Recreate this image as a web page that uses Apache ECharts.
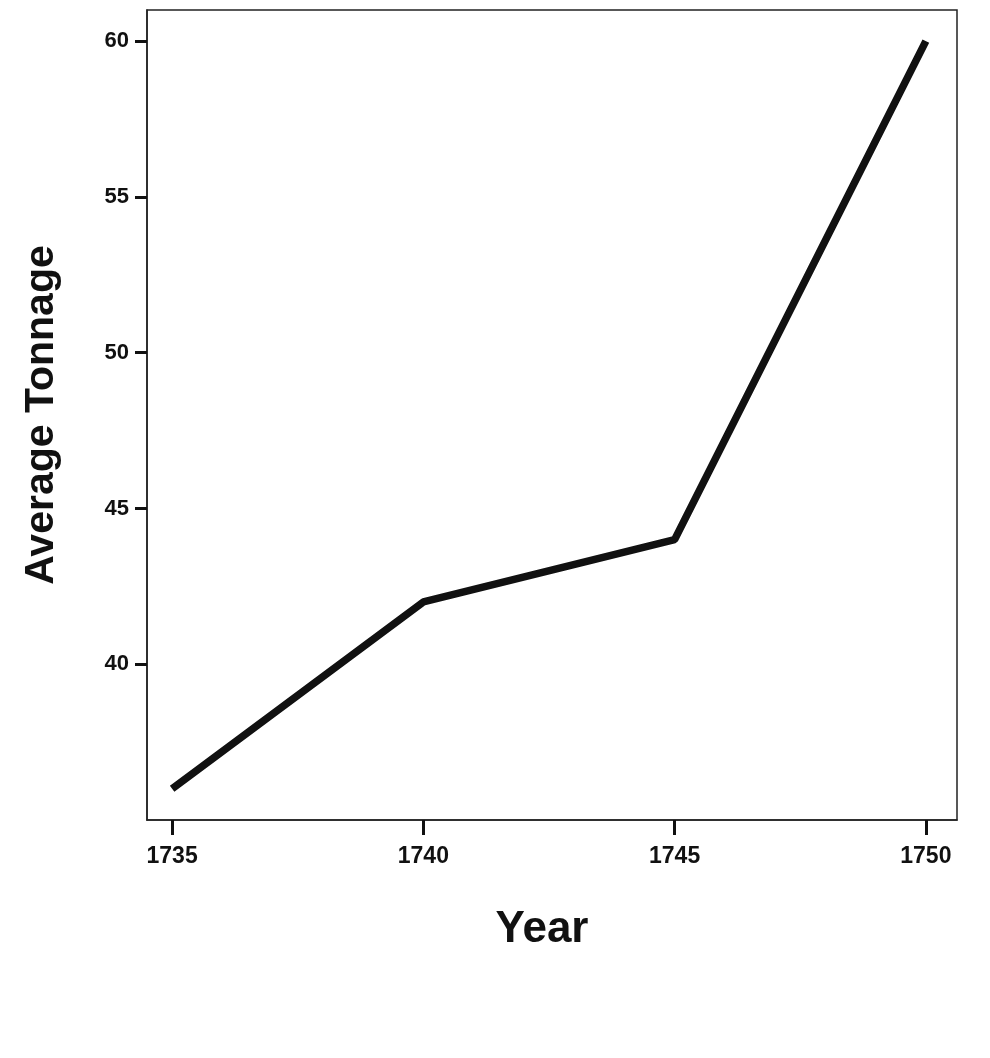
<!DOCTYPE html>
<html>
<head>
<meta charset="utf-8">
<script src="https://cdn.jsdelivr.net/npm/echarts@6/dist/echarts.min.js"></script>
<style>html,body{margin:0;padding:0;background:#fff}#c{width:990px;height:1058px}</style>
</head>
<body>
<div id="c"></div>
<script>
var years = [1735, 1740, 1745, 1750];
var tonnage = [36, 42, 44, 60];
var xTicks = [1735, 1740, 1745, 1750];
var yTicks = [40, 45, 50, 55, 60];

var chart = echarts.init(document.getElementById('c'));
var font = 'Liberation Sans, Arial, sans-serif';
chart.setOption({
  animation: false,
  backgroundColor: '#fff',
  grid: { left: 147, top: 10, width: 810, height: 810, show: true, borderColor: '#222', borderWidth: 1.5, containLabel: false },
  xAxis: {
    type: 'value', min: 1734.5, max: 1750.62,
    name: 'Year', nameLocation: 'middle', nameGap: 88,
    nameTextStyle: { fontFamily: font, fontWeight: 'bold', fontSize: 44, color: '#111', padding: [0, 20, 0, 0], verticalAlign: 'top' },
    axisLine: { show: true, lineStyle: { color: '#222', width: 1.5 } },
    axisTick: { show: true, customValues: xTicks, length: 15, lineStyle: { color: '#111', width: 3 } },
    axisLabel: { customValues: xTicks, margin: 25, fontFamily: font, fontWeight: 'bold', fontSize: 23, color: '#111',
      formatter: function (v) { return String(v); } },
    splitLine: { show: false }
  },
  yAxis: {
    type: 'value', min: 35, max: 61,
    name: 'Average Tonnage', nameLocation: 'middle', nameGap: 85,
    nameTextStyle: { fontFamily: font, fontWeight: 'bold', fontSize: 41, color: '#111' },
    axisLine: { show: true, lineStyle: { color: '#222', width: 1.5 } },
    axisTick: { show: true, customValues: yTicks, length: 12, lineStyle: { color: '#111', width: 3 } },
    axisLabel: { customValues: yTicks, margin: 18, fontFamily: font, fontWeight: 'bold', fontSize: 22, color: '#111',
      formatter: function (v) { return String(v); } },
    splitLine: { show: false }
  },
  series: [{
    type: 'line',
    data: years.map(function (y, i) { return [y, tonnage[i]]; }),
    symbol: 'none',
    lineStyle: { color: '#111', width: 7.5 }
  }]
});
</script>
</body>
</html>
